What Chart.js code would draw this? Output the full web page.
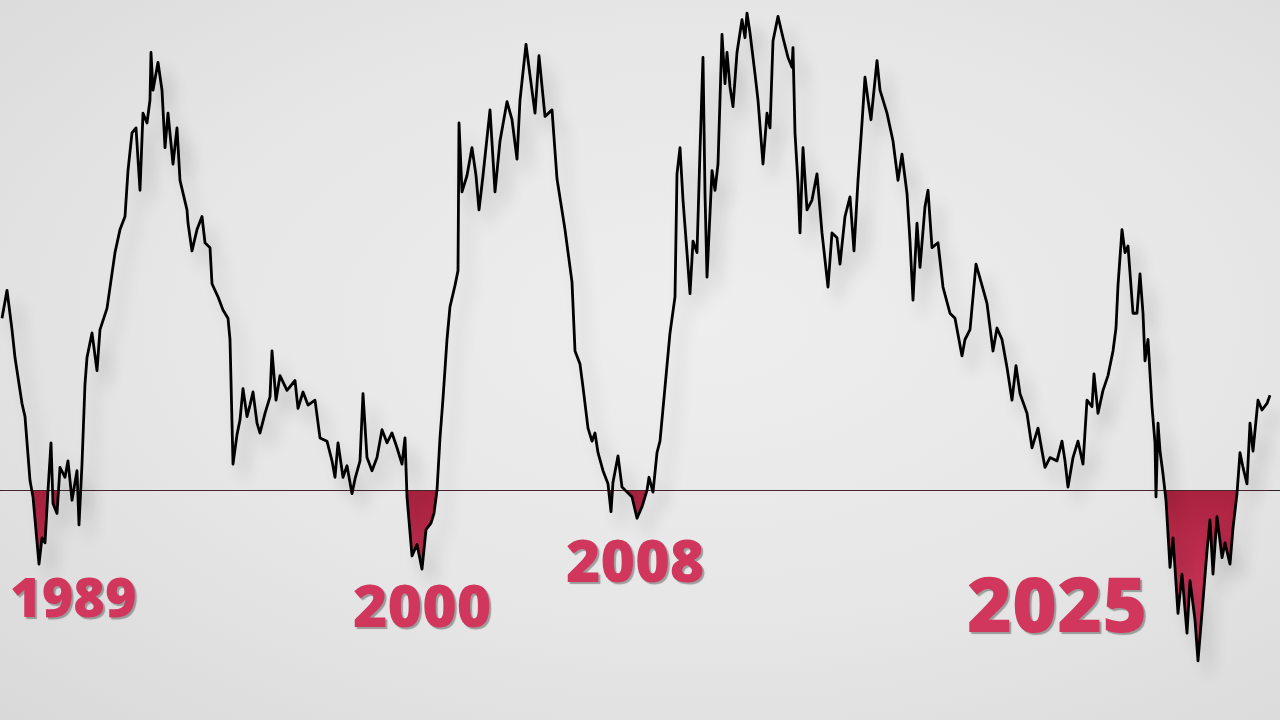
<!DOCTYPE html>
<html lang="en">
<head>
    <meta charset="UTF-8">
    <title>10Y-2Y Spread Inversions</title>
    <script src="https://cdn.jsdelivr.net/npm/chart.js"></script>
    <style>
        html, body { margin: 0; padding: 0; overflow: hidden; }
        body {
            width: 1280px; height: 720px;
            background: radial-gradient(ellipse at 55% 45%, #eeeeee 0%, #e6e6e6 55%, #d9d9d9 100%);
            font-family: "Open Sans", Inter, sans-serif;
        }
        #wrap { position: absolute; left: 0; top: 0; width: 1280px; height: 720px; }
        .year {
            position: absolute;
            color: #d1375d;
            font-weight: 800;
            line-height: 1;
            text-shadow: 2px 2px 1px rgba(95, 95, 95, 0.55);
            white-space: nowrap;
        }
    </style>
</head>
<body>
    <div id="wrap"><canvas id="myChart"></canvas></div>

    <div class="year" style="left:10px; top:569px; font-size:54px;">1989</div>
    <div class="year" style="left:353px; top:575px; font-size:59px;">2000</div>
    <div class="year" style="left:566px; top:530px; font-size:59px;">2008</div>
    <div class="year" style="left:967px; top:564px; font-size:77px;">2025</div>

    <script>
        // decimal year of each point
        const years = [
            1988.06, 1988.21, 1988.36, 1988.45, 1988.66, 1988.75, 1988.90, 1988.99, 1989.17, 1989.26,
            1989.35, 1989.44, 1989.53, 1989.59, 1989.71, 1989.80, 1989.95, 1990.04, 1990.16, 1990.31,
            1990.37, 1990.46, 1990.55, 1990.61, 1990.76, 1990.91, 1991.00, 1991.21, 1991.45, 1991.60,
            1991.75, 1991.84, 1991.96, 1992.08, 1992.20, 1992.29, 1992.41, 1992.50, 1992.53, 1992.59,
            1992.74, 1992.86, 1992.95, 1993.04, 1993.19, 1993.31, 1993.40, 1993.61, 1993.64, 1993.76,
            1993.91, 1994.06, 1994.15, 1994.30, 1994.36, 1994.54, 1994.69, 1994.84, 1994.90, 1994.99,
            1995.11, 1995.20, 1995.29, 1995.41, 1995.50, 1995.59, 1995.71, 1995.80, 1995.95, 1996.10,
            1996.16, 1996.28, 1996.40, 1996.61, 1996.85, 1996.94, 1997.09, 1997.24, 1997.45, 1997.60,
            1997.81, 1997.96, 1998.05, 1998.14, 1998.29, 1998.41, 1998.56, 1998.65, 1998.80, 1998.89,
            1999.01, 1999.16, 1999.31, 1999.46, 1999.61, 1999.76, 1999.91, 2000.06, 2000.15, 2000.21,
            2000.36, 2000.51, 2000.66, 2000.78, 2000.93, 2001.02, 2001.11, 2001.20, 2001.29, 2001.41,
            2001.50, 2001.65, 2001.74, 2001.77, 2001.86, 2002.01, 2002.16, 2002.28, 2002.37, 2002.49,
            2002.70, 2002.85, 2003.00, 2003.21, 2003.36, 2003.51, 2003.60, 2003.78, 2003.90, 2004.05,
            2004.17, 2004.35, 2004.56, 2004.71, 2004.95, 2005.16, 2005.25, 2005.40, 2005.49, 2005.64,
            2005.76, 2005.85, 2005.94, 2006.09, 2006.24, 2006.33, 2006.39, 2006.54, 2006.66, 2006.81,
            2006.96, 2007.11, 2007.26, 2007.41, 2007.47, 2007.59, 2007.71, 2007.80, 2007.95, 2008.10,
            2008.25, 2008.31, 2008.40, 2008.49, 2008.61, 2008.70, 2008.79, 2008.91, 2009.00, 2009.09,
            2009.15, 2009.21, 2009.36, 2009.45, 2009.54, 2009.66, 2009.75, 2009.81, 2009.90, 2009.99,
            2010.11, 2010.26, 2010.35, 2010.41, 2010.50, 2010.65, 2010.74, 2010.89, 2011.01, 2011.10,
            2011.19, 2011.34, 2011.49, 2011.64, 2011.76, 2011.79, 2011.85, 2011.94, 2012.00, 2012.09,
            2012.21, 2012.36, 2012.51, 2012.66, 2012.84, 2012.96, 2013.11, 2013.20, 2013.35, 2013.50,
            2013.62, 2013.74, 2013.86, 2013.95, 2014.04, 2014.13, 2014.31, 2014.40, 2014.61, 2014.79,
            2014.94, 2015.06, 2015.21, 2015.30, 2015.39, 2015.51, 2015.60, 2015.75, 2015.84, 2015.96,
            2016.14, 2016.29, 2016.50, 2016.65, 2016.86, 2016.95, 2017.10, 2017.28, 2017.46, 2017.61,
            2017.79, 2017.91, 2018.06, 2018.21, 2018.36, 2018.48, 2018.60, 2018.81, 2018.96, 2019.14,
            2019.26, 2019.35, 2019.50, 2019.71, 2019.86, 2019.95, 2020.04, 2020.19, 2020.34, 2020.49,
            2020.61, 2020.76, 2020.82, 2020.94, 2021.09, 2021.24, 2021.39, 2021.48, 2021.54, 2021.66,
            2021.75, 2021.84, 2021.99, 2022.11, 2022.20, 2022.29, 2022.35, 2022.44, 2022.56, 2022.65,
            2022.68, 2022.74, 2022.80, 2022.89, 2022.98, 2023.10, 2023.19, 2023.34, 2023.46, 2023.61,
            2023.70, 2023.85, 2023.94, 2024.09, 2024.21, 2024.30, 2024.39, 2024.51, 2024.66, 2024.75,
            2024.90, 2024.99, 2025.11, 2025.20, 2025.29, 2025.41, 2025.50, 2025.59, 2025.74, 2025.86,
            2026.01, 2026.10
        ];

        // spread in percentage points (10y minus 2y)
        const spread = [
            1.05, 1.22, 0.98, 0.81, 0.53, 0.45, 0.06, -0.04, -0.45, -0.29,
            -0.32, 0.00, 0.29, -0.08, -0.14, 0.14, 0.08, 0.18, -0.06, 0.12,
            -0.21, 0.16, 0.65, 0.81, 0.96, 0.73, 0.98, 1.11, 1.45, 1.59,
            1.67, 1.95, 2.18, 2.21, 1.83, 2.30, 2.24, 2.38, 2.67, 2.44,
            2.61, 2.44, 2.09, 2.30, 1.99, 2.21, 1.89, 1.71, 1.63, 1.46,
            1.59, 1.67, 1.51, 1.48, 1.26, 1.18, 1.10, 1.05, 0.92, 0.16,
            0.34, 0.43, 0.62, 0.45, 0.52, 0.60, 0.41, 0.35, 0.47, 0.57,
            0.85, 0.55, 0.70, 0.61, 0.67, 0.50, 0.60, 0.52, 0.55, 0.32,
            0.30, 0.18, 0.08, 0.29, 0.08, 0.15, -0.02, 0.07, 0.18, 0.59,
            0.20, 0.12, 0.20, 0.37, 0.29, 0.35, 0.26, 0.16, 0.32, -0.04,
            -0.40, -0.33, -0.48, -0.24, -0.20, -0.14, 0.00, 0.32, 0.56, 0.92,
            1.12, 1.25, 1.34, 2.24, 1.82, 1.92, 2.09, 1.92, 1.71, 1.92,
            2.32, 1.82, 2.13, 2.37, 2.26, 2.02, 2.38, 2.72, 2.53, 2.30,
            2.65, 2.28, 2.32, 1.90, 1.59, 1.27, 0.85, 0.77, 0.63, 0.38,
            0.30, 0.35, 0.23, 0.12, 0.04, -0.13, 0.05, 0.21, 0.02, -0.01,
            -0.04, -0.17, -0.10, 0.00, 0.08, -0.01, 0.23, 0.30, 0.63, 0.96,
            1.18, 1.93, 2.09, 1.77, 1.45, 1.20, 1.52, 1.45, 2.07, 2.64,
            1.81, 1.30, 1.95, 1.83, 1.99, 2.78, 2.48, 2.67, 2.46, 2.34,
            2.67, 2.87, 2.76, 2.91, 2.79, 2.54, 2.38, 1.99, 2.30, 2.21,
            2.74, 2.89, 2.76, 2.64, 2.58, 2.70, 2.18, 1.87, 1.57, 2.09,
            1.71, 1.77, 1.93, 1.57, 1.24, 1.57, 1.54, 1.38, 1.67, 1.79,
            1.46, 1.89, 2.24, 2.52, 2.38, 2.26, 2.62, 2.44, 2.30, 2.13,
            1.89, 2.05, 1.81, 1.52, 1.16, 1.63, 1.36, 1.73, 1.83, 1.48,
            1.51, 1.24, 1.08, 1.05, 0.82, 0.92, 0.98, 1.38, 1.25, 1.14,
            0.85, 0.99, 0.92, 0.75, 0.55, 0.76, 0.59, 0.47, 0.26, 0.38,
            0.24, 0.14, 0.20, 0.18, 0.30, 0.18, 0.02, 0.20, 0.30, 0.16,
            0.55, 0.51, 0.71, 0.47, 0.61, 0.70, 0.85, 0.99, 1.25, 1.59,
            1.45, 1.49, 1.08, 1.08, 1.32, 1.08, 0.79, 0.92, 0.51, 0.29,
            -0.04, 0.41, 0.24, 0.10, -0.06, -0.47, -0.29, -0.75, -0.51, -0.87,
            -0.55, -0.79, -1.04, -0.67, -0.37, -0.18, -0.51, -0.16, -0.41, -0.32,
            -0.45, -0.23, -0.02, 0.23, 0.14, 0.04, 0.41, 0.24, 0.55, 0.49,
            0.53, 0.58
        ];

        // visible window of the axes (both axes hidden)
        const xRange = [1988.0, 2026.4];
        const yRange = [-1.40, 2.99];

        const points = years.map((yr, i) => ({ x: yr, y: spread[i] }));

        // zero line behind the series
        const zeroLine = {
            id: 'zeroLine',
            beforeDatasetsDraw(chart) {
                const { ctx, chartArea, scales } = chart;
                const y0 = Math.round(scales.y.getPixelForValue(0)) + 0.5;
                ctx.save();
                ctx.strokeStyle = '#262626';
                ctx.lineWidth = 1.2;
                ctx.beginPath();
                ctx.moveTo(chartArea.left, y0);
                ctx.lineTo(chartArea.right, y0);
                ctx.stroke();
                ctx.restore();
            }
        };

        // red gradient for the inverted parts
        const redFill = {
            id: 'redFill',
            afterLayout(chart) {
                const { ctx, scales } = chart;
                const g = ctx.createLinearGradient(0, scales.y.getPixelForValue(0), 0, scales.y.getPixelForValue(-0.7));
                g.addColorStop(0, '#a9223f');
                g.addColorStop(1, '#cd3558');
                chart.data.datasets[0].fill.below = g;
            }
        };

        // soft long shadow under the line
        const lineShadow = {
            id: 'lineShadow',
            beforeDatasetDraw(chart) {
                const ctx = chart.ctx;
                ctx.save();
                ctx.shadowColor = 'rgba(0, 0, 0, 0.2)';
                ctx.shadowBlur = 16;
                ctx.shadowOffsetX = 10;
                ctx.shadowOffsetY = 14;
            },
            afterDatasetDraw(chart) {
                chart.ctx.restore();
            }
        };

        const ctx = document.getElementById('myChart').getContext('2d');
        const myChart = new Chart(ctx, {
            type: 'line',
            data: {
                datasets: [{
                    label: 'Spread',
                    data: points,
                    borderColor: '#000000',
                    borderWidth: 2.8,
                    borderJoinStyle: 'round',
                    pointRadius: 0,
                    tension: 0,
                    fill: {
                        target: { value: 0 },
                        above: 'rgba(0,0,0,0)',
                        below: '#bd2b4d'
                    }
                }]
            },
            options: {
                responsive: true,
                maintainAspectRatio: false,
                animation: false,
                layout: { padding: 0 },
                plugins: {
                    legend: { display: false },
                    tooltip: { enabled: false }
                },
                scales: {
                    x: { type: 'linear', min: xRange[0], max: xRange[1], display: false },
                    y: { min: yRange[0], max: yRange[1], display: false }
                }
            },
            plugins: [zeroLine, redFill, lineShadow]
        });
    </script>
</body>
</html>
